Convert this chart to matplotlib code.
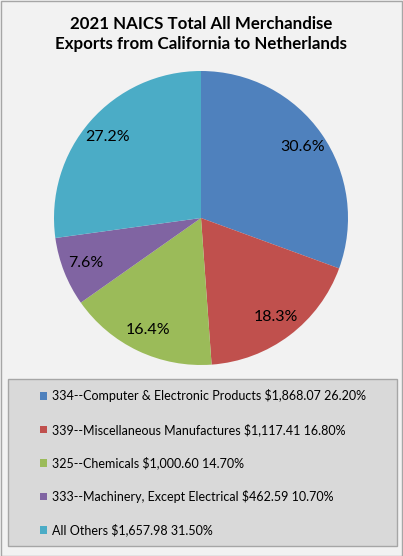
import matplotlib.pyplot as plt
from matplotlib.patches import Rectangle

# slice shares (%) shown on the pie
shares = [30.6, 18.3, 16.4, 7.6, 27.2]
categories = ["334--Computer & Electronic Products",
              "339--Miscellaneous Manufactures",
              "325--Chemicals",
              "333--Machinery, Except Electrical",
              "All Others"]
values = ["$1,868.07", "$1,117.41", "$1,000.60", "$462.59", "$1,657.98"]
legend_pct = ["26.20%", "16.80%", "14.70%", "10.70%", "31.50%"]
colors = ["#4F81BD", "#C0504D", "#9BBB59", "#8064A2", "#4BACC6"]

W, H = 403, 556
plt.rcParams['font.family'] = ['Lato', 'DejaVu Sans']

fig = plt.figure(figsize=(W / 100, H / 100), dpi=100, facecolor="#F2F2F2")

# outer border
fig.patches.append(Rectangle((0.5 / W, 0.5 / H), 1 - 1.5 / W, 1 - 1.5 / H,
                             transform=fig.transFigure, fill=False,
                             edgecolor="#A6A6A6", lw=1))

fig.text(201 / W, 1 - 34 / H,
         "2021 NAICS Total All Merchandise\nExports from California to Netherlands",
         ha="center", va="center", fontsize=12.2, fontweight="bold",
         linespacing=1.25, color="black")

# pie: centre (201, 218) px from top, radius 147
R = 147
ax = fig.add_axes([(201 - R) / W, 1 - (218 + R) / H, 2 * R / W, 2 * R / H])
wedges, texts, autotexts = ax.pie(shares, colors=colors, startangle=90,
                                  counterclock=False, autopct="%1.1f%%",
                                  pctdistance=0.84,
                                  wedgeprops=dict(linewidth=0),
                                  textprops=dict(fontsize=11.5, color="black"))
ax.set_xlim(-1, 1)
ax.set_ylim(-1, 1)
ax.set_aspect("auto")
ax.axis("off")

# legend box
fig.patches.append(Rectangle((8 / W, 1 - 546 / H), 389 / W, 167 / H,
                             transform=fig.transFigure, facecolor="#D9D9D9",
                             edgecolor="#A6A6A6", lw=1))

labels = [f"{c} {v} {p}" for c, v, p in zip(categories, values, legend_pct)]
leg = fig.legend(wedges, labels, loc="center", frameon=False,
                 bbox_to_anchor=(203 / W, 1 - 463 / H),
                 fontsize=9, handlelength=0.55, handleheight=0.55,
                 handletextpad=0.35, labelspacing=1.65, borderpad=0)

fig.savefig("out.png", dpi=100, facecolor=fig.get_facecolor())
